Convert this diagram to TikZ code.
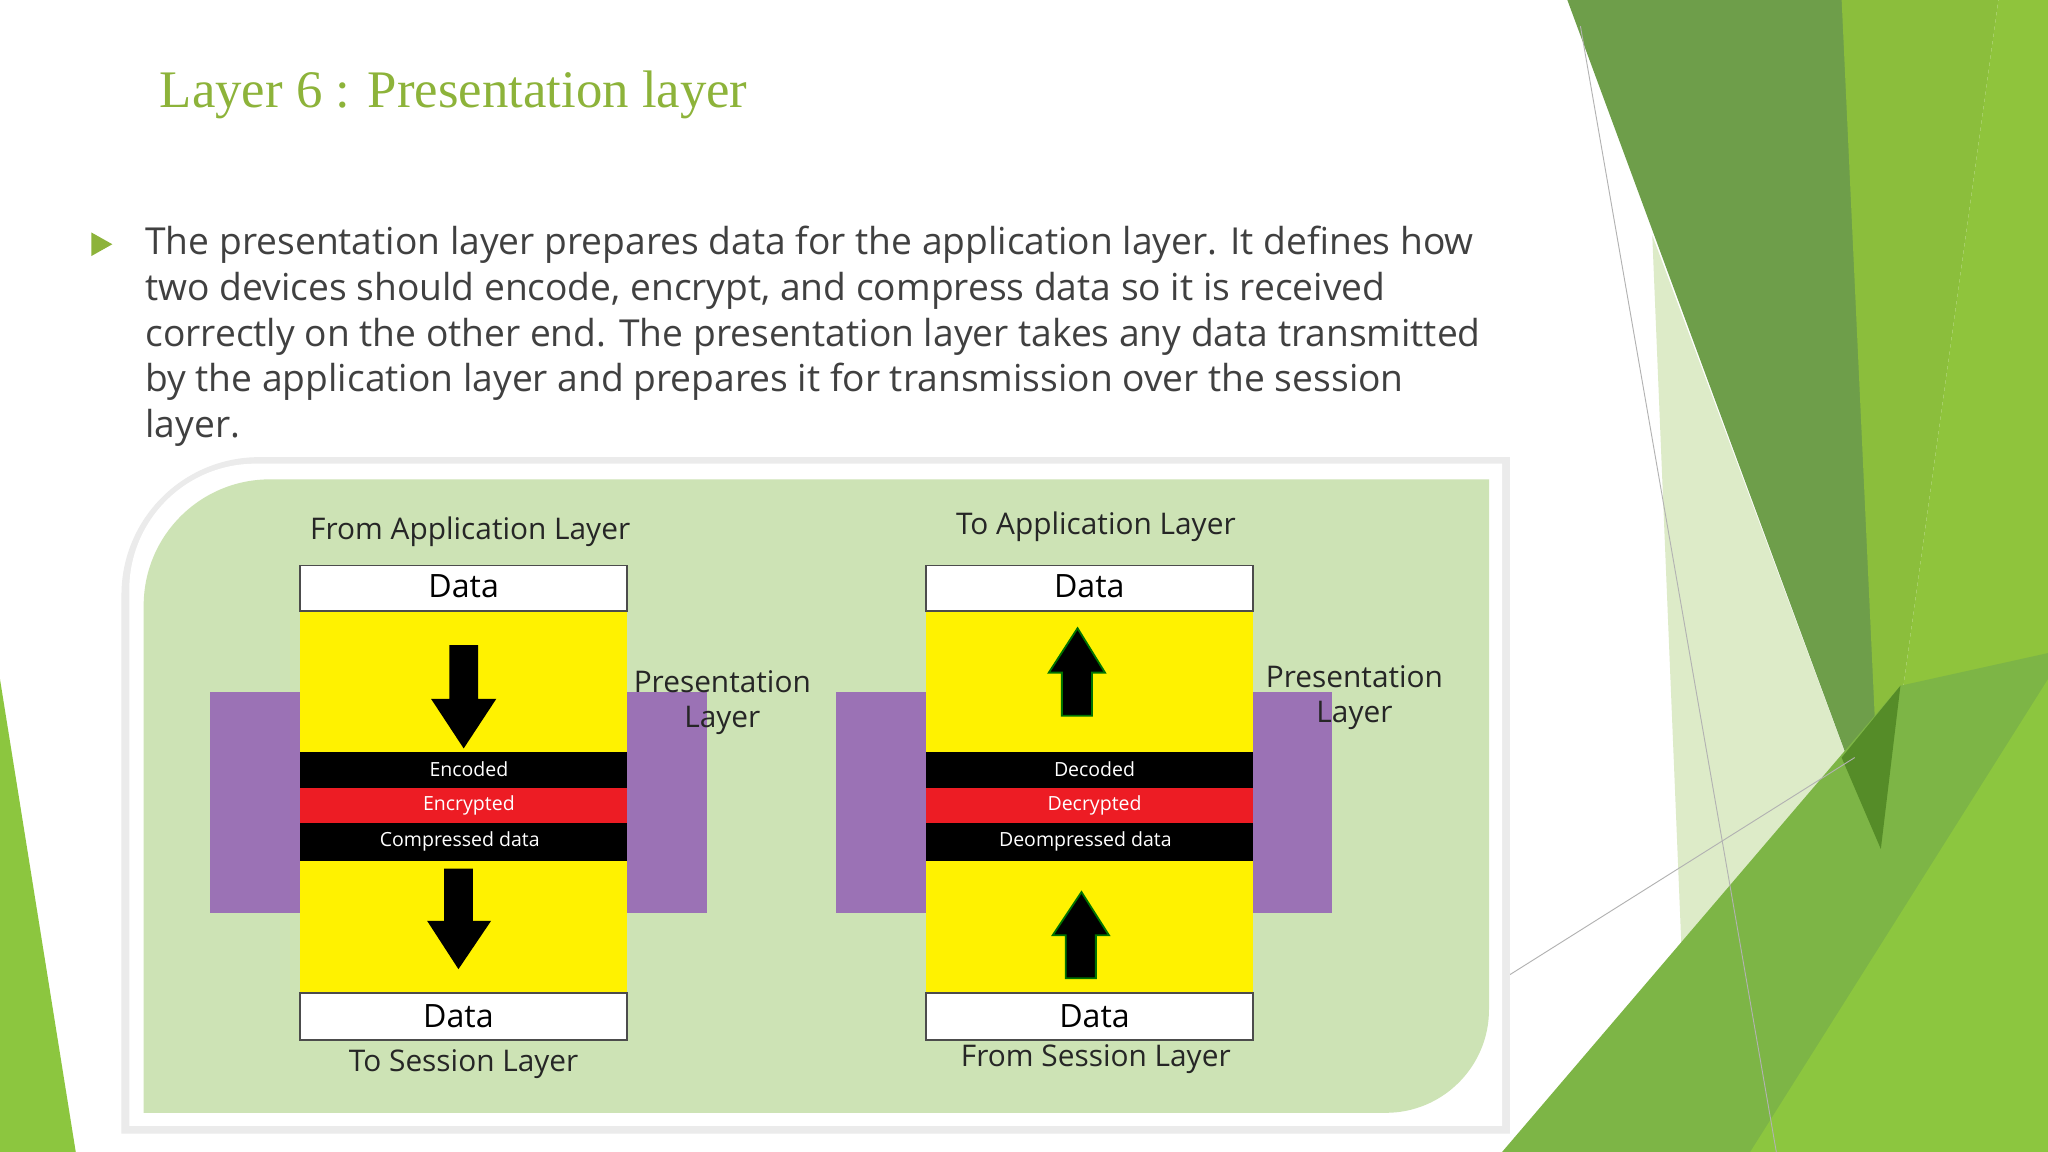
\documentclass[tikz,border=0pt]{standalone}
\usepackage{fontspec}
\setmainfont{Open Sans}
\newfontfamily\titlefont{Liberation Serif}
\definecolor{tgreen}{HTML}{8DB33A}
\definecolor{paneg}{HTML}{CDE3B5}
\definecolor{purp}{HTML}{9B72B5}
\definecolor{yel}{HTML}{FFF200}
\definecolor{red2}{HTML}{ED1C24}
\definecolor{txt}{HTML}{404040}
\definecolor{gA}{HTML}{6E9E4A}
\definecolor{gB}{HTML}{8BBE3C}
\definecolor{gC}{HTML}{8FC43C}
\definecolor{gD}{HTML}{DDEBC8}
\definecolor{gE}{HTML}{7DB546}
\definecolor{gF}{HTML}{8CC63F}
\definecolor{gG}{HTML}{558C28}
\tikzset{
 databox/.style={fill=white,draw=black!70,line width=0.8pt},
 bandbox/.style={draw=none,text=white,font=\fontsize{8.5}{10}\selectfont},
 lbl/.style={font=\fontsize{13}{15}\selectfont,text=black!85},
 datat/.style={font=\fontsize{14}{16}\selectfont},
 para/.style={anchor=base west,text=txt,font=\fontsize{16.2}{19}\selectfont,inner sep=0},
 arrowup/.style={fill=black,draw=green!45!black,line width=0.8pt},
}
\begin{document}
\begin{tikzpicture}[x=0.02cm,y=-0.02cm]
\useasboundingbox (0,0) rectangle (1568,882);
\fill[white] (0,0) rectangle (1568,882);
% right decoration
\fill[gD] (1265,180) -- (1440,650) -- (1290,790) -- cycle;
\fill[gA] (1200,0) -- (1420,0) -- (1440,650) -- cycle;
\fill[gB] (1410,0) -- (1530,0) -- (1440,650) -- cycle;
\fill[gC] (1530,0) -- (1568,0) -- (1568,520) -- (1440,650) -- cycle;
\fill[gE] (1150,882) -- (1455,525) -- (1568,500) -- (1568,882) -- cycle;
\fill[gF] (1340,882) -- (1568,520) -- (1568,882) -- cycle;
\fill[gG] (1410,580) -- (1455,525) -- (1440,650) -- cycle;
\draw[gray!60,line width=0.4pt] (1210,20) -- (1360,882);
\draw[gray!60,line width=0.4pt] (1150,750) -- (1420,580);
% left decoration
\fill[gF] (0,520) -- (58,882) -- (0,882) -- cycle;
% title
\node[anchor=base west,inner sep=0,text=tgreen,font=\titlefont\fontsize{23}{27}\selectfont] (title) at (122,82) {Layer 6 : Presentation layer};
\fill[tgreen] (70,178) -- (86,187) -- (70,196) -- cycle;
\node[para] (p1) at (111,195) {The presentation layer prepares data for the application layer. It defines how};
\node[para] (p2) at (111,230) {two devices should encode, encrypt, and compress data so it is received};
\node[para] (p3) at (111,265) {correctly on the other end. The presentation layer takes any data transmitted};
\node[para] (p4) at (111,300) {by the application layer and prepares it for transmission over the session};
\node[para] (p5) at (111,335) {layer.};
% panel
\fill[black!8] (1156,350) -- (1156,868) -- (93,868) [rounded corners=60pt] -- (93,350) [sharp corners] -- cycle;
\fill[white] (1150,355) -- (1150,862) -- (99,862) [rounded corners=55pt] -- (99,355) [sharp corners] -- cycle;
\fill[paneg] (1140,367) [rounded corners=45pt] -- (1140,852) [sharp corners] -- (110,852) [rounded corners=55pt] -- (110,367) [sharp corners] -- cycle;
% diagrams
\foreach \dx in {0,479}{
 \fill[purp] (161+\dx,530) rectangle (230+\dx,699);
 \fill[purp] (480+\dx,530) rectangle (541+\dx,699);
 \fill[yel] (230+\dx,468) rectangle (480+\dx,576);
 \fill[yel] (230+\dx,659) rectangle (480+\dx,760);
 \fill[black] (230+\dx,576) rectangle (480+\dx,603);
 \fill[red2] (230+\dx,603) rectangle (480+\dx,630);
 \fill[black] (230+\dx,630) rectangle (480+\dx,659);
 \draw[databox] (230+\dx,433) rectangle (480+\dx,468);
 \draw[databox] (230+\dx,760) rectangle (480+\dx,796);
}
\node[datat] (d1) at (355,449) {Data};
\node[datat] (d2) at (351,778) {Data};
\node[datat] (d3) at (834,449) {Data};
\node[datat] (d4) at (838,778) {Data};
\node[bandbox] (b1) at (359,589) {Encoded};
\node[bandbox] (b2) at (359,617) {Encrypted};
\node[bandbox] (b3) at (352,644) {Compressed data};
\node[bandbox] (b4) at (838,589) {Decoded};
\node[bandbox] (b5) at (838,617) {Decrypted};
\node[bandbox] (b6) at (831,644) {Deompressed data};
\node[lbl] (t1) at (360,407) {From Application Layer};
\node[lbl] (t2) at (355,815) {To Session Layer};
\node[lbl] (t3) at (839,403) {To Application Layer};
\node[lbl] (t4) at (839,811) {From Session Layer};
\node[lbl,align=center] (t5) at (553,538) {Presentation\\Layer};
\node[lbl,align=center] (t6) at (1037,534) {Presentation\\Layer};
% arrows
\fill[black] (344,494) -- (366,494) -- (366,535) -- (380,535) -- (355,573) -- (330,535) -- (344,535) -- cycle;
\fill[black] (340,665) -- (362,665) -- (362,705) -- (376,705) -- (351,742) -- (327,705) -- (340,705) -- cycle;
\draw[arrowup] (813,548) -- (836,548) -- (836,515) -- (846,515) -- (825,481) -- (803,515) -- (813,515) -- cycle;
\draw[arrowup] (816,749) -- (839,749) -- (839,716) -- (849,716) -- (828,683) -- (806,716) -- (816,716) -- cycle;
\end{tikzpicture}
\end{document}
